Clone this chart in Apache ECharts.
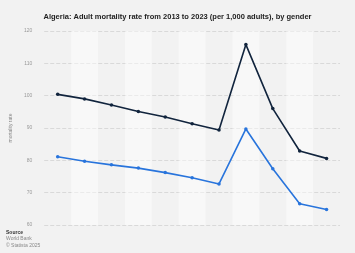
<!DOCTYPE html>
<html>
<head>
<meta charset="utf-8">
<script src="https://cdn.jsdelivr.net/npm/echarts@6/dist/echarts.min.js"></script>
<style>
  html, body { margin: 0; padding: 0; background: #f2f2f2; }
  #chart { width: 355px; height: 253px; }
</style>
</head>
<body>
<div id="chart"></div>
<script>
const years = [ '2013', '2014', '2015', '2016', '2017', '2018', '2019', '2020', '2021', '2022', '2023' ];
const male = [ 100.4, 99.0, 97.1, 95.1, 93.4, 91.3, 89.4, 115.8, 96.0, 82.9, 80.6 ];
const female = [ 81.1, 79.7, 78.6, 77.6, 76.2, 74.6, 72.7, 89.7, 77.4, 66.6, 64.8 ];

const chart = echarts.init( document.getElementById( 'chart' ) );

chart.setOption( {
    backgroundColor: '#f2f2f2',
    animation: false,
    title: {
        text: 'Algeria: Adult mortality rate from 2013 to 2023 (per 1,000 adults), by gender',
        left: 'center',
        top: 8,
        textStyle: { fontFamily: 'Liberation Sans', fontSize: 7.5, fontWeight: 'bold', color: '#222' }
    },
    graphic: [ {
        type: 'text',
        left: 6,
        top: 229,
        style: {
            text: '{b|Source}\nWorld Bank\n© Statista 2025',
            fontFamily: 'Liberation Sans',
            fontSize: 5,
            lineHeight: 6.5,
            fill: '#888',
            rich: { b: { fontWeight: 'bold', fill: '#333', fontSize: 5 } }
        }
    } ],
    grid: { left: 40, right: 15, top: 31, bottom: 28 },
    xAxis: {
        type: 'category',
        data: years,
        boundaryGap: true,
        axisLine: { show: false },
        axisTick: { show: false, interval: 0 },
        axisLabel: { show: false, interval: 0 },
        splitArea: { show: true, interval: 0, areaStyle: { color: [ 'rgba(0,0,0,0)', 'rgba(255,255,255,0.45)' ] } }
    },
    yAxis: {
        type: 'value',
        min: 60,
        max: 120,
        interval: 10,
        name: 'mortality rate',
        nameLocation: 'middle',
        nameGap: 20,
        nameTextStyle: { fontFamily: 'Liberation Sans', fontSize: 5, color: '#888' },
        axisLine: { show: false },
        axisTick: { show: false },
        axisLabel: { fontFamily: 'Liberation Sans', fontSize: 5, color: '#999', margin: 12 },
        splitLine: { lineStyle: { color: '#d2d2d2', type: [ 4, 2 ], width: 0.8 } }
    },
    series: [ {
        name: 'Male',
        type: 'line',
        data: male,
        symbol: 'circle',
        symbolSize: 3.5,
        lineStyle: { color: '#11243d', width: 1.6 },
        itemStyle: { color: '#11243d' }
    }, {
        name: 'Female',
        type: 'line',
        data: female,
        symbol: 'circle',
        symbolSize: 3.5,
        lineStyle: { color: '#2874dc', width: 1.6 },
        itemStyle: { color: '#2874dc' }
    } ]
} );
</script>
</body>
</html>
